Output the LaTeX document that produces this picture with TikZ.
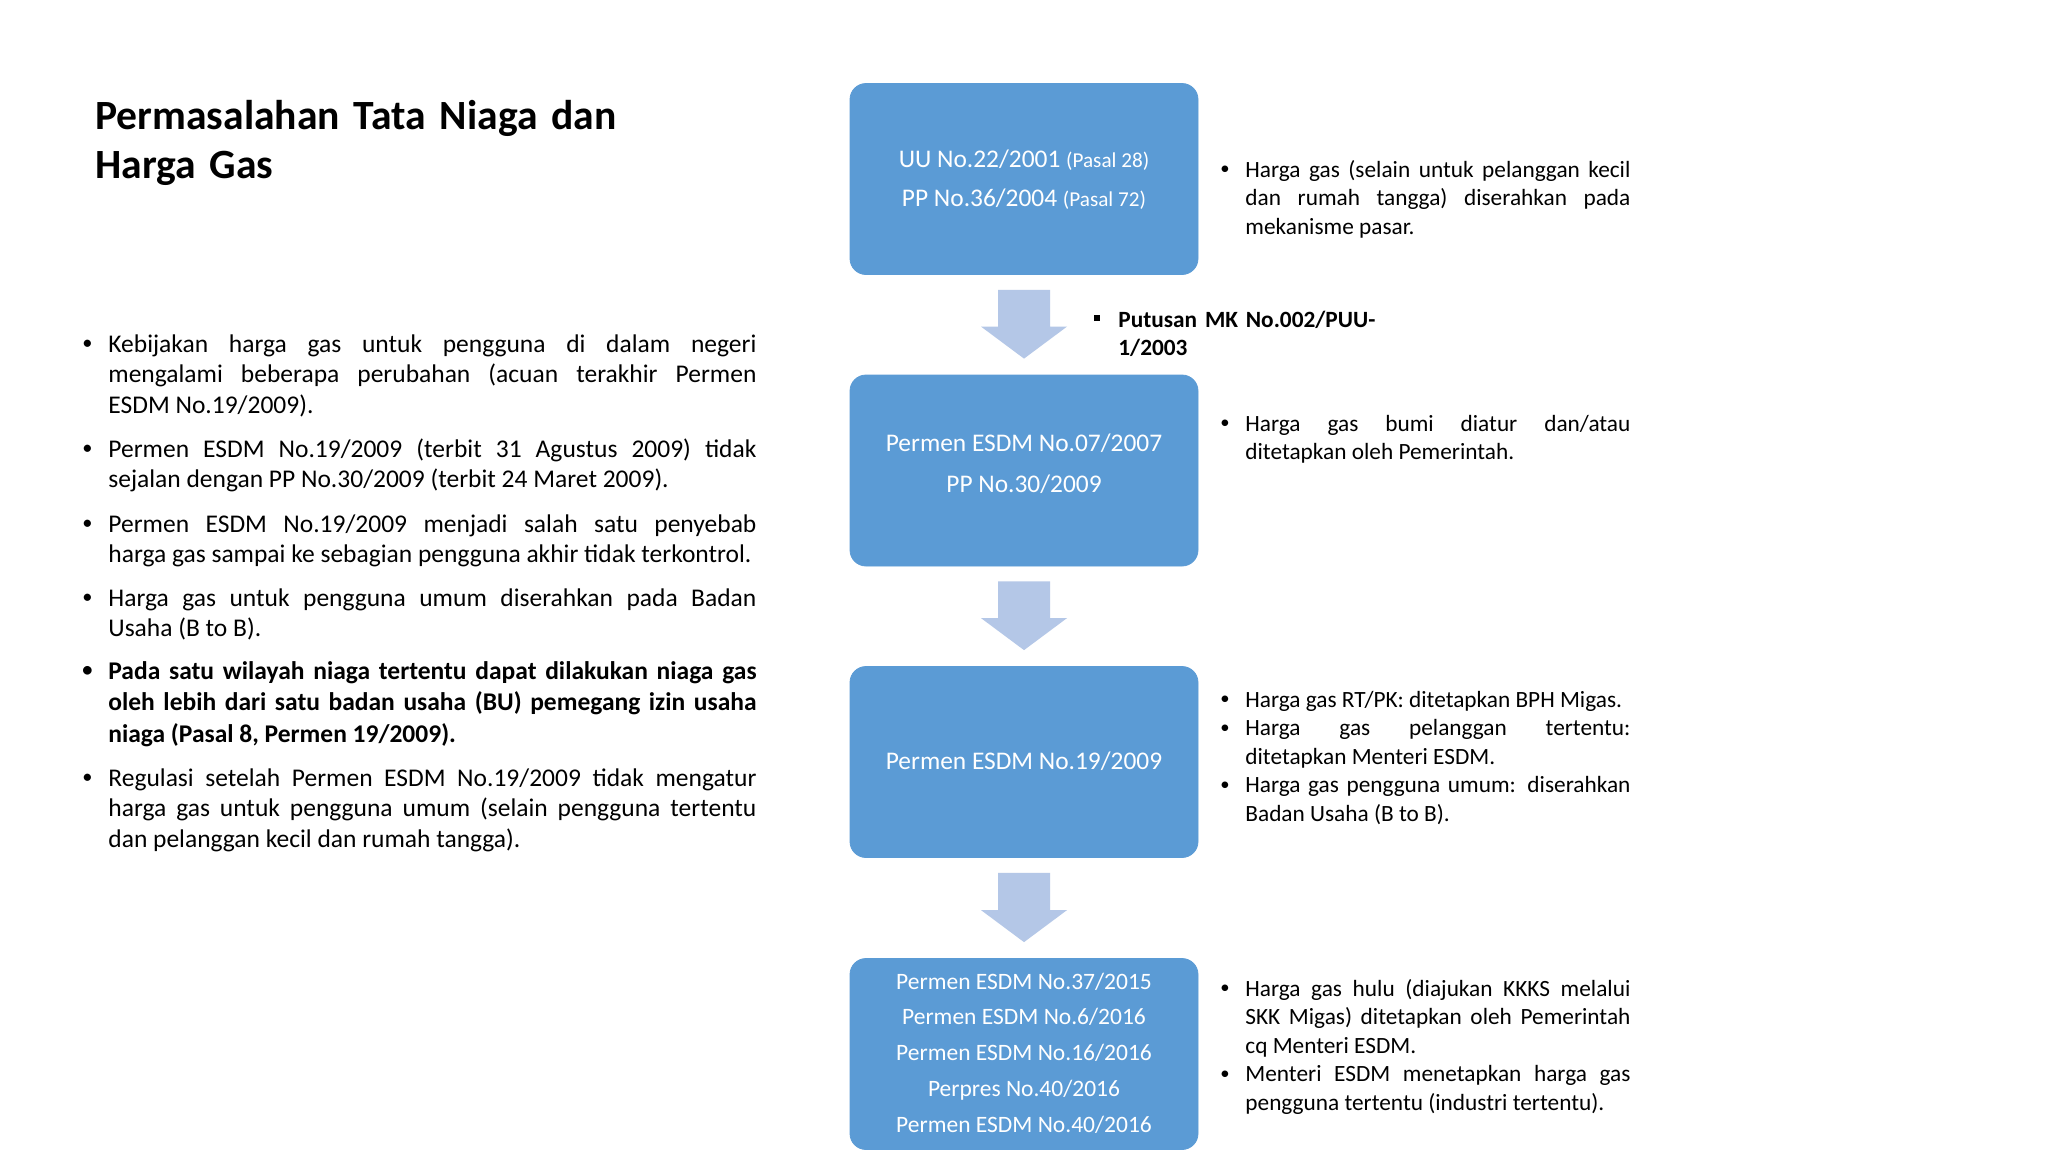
\documentclass[tikz,border=0pt]{standalone}
\usepackage{fontspec}
\usepackage{graphicx}
\setmainfont{Carlito}
\usetikzlibrary{calc}
\definecolor{boxblue}{HTML}{5B9BD5}
\definecolor{arrowblue}{HTML}{B4C7E7}
\newcommand\smallbul{\raisebox{0.09em}{\scalebox{0.8}{•}}}
\newcommand\myitem[3]{\hangindent=#1\hangafter=1\noindent\makebox[#1][l]{#2}#3\par}
\hyphenpenalty=10000
\exhyphenpenalty=10000
\tolerance=9999
\hbadness=10000
\begin{document}
\begin{tikzpicture}[x=0.5pt,y=-0.5pt,
  box/.style={rounded corners=8pt, fill=boxblue, draw=boxblue, minimum width=174pt, minimum height=95.5pt, inner sep=0pt},
  boxtext/.style={text=white, align=center, inner sep=0pt},
  titletext/.style={anchor=base west, inner sep=0pt, text width=330pt, align=left, font=\fontsize{20.8pt}{24.5pt}\selectfont\bfseries},
  lefttext/.style={anchor=base west, inner sep=0pt, text width=337pt, align=justify, font=\fontsize{12.75pt}{15.35pt}\selectfont},
  righttext/.style={anchor=base west, inner sep=0pt, text width=205pt, align=justify, font=\fontsize{11.65pt}{14.3pt}\selectfont},
  blockarrow/.style={fill=arrowblue}
]
\fill[white] (0,0) rectangle (2048,1152);
\useasboundingbox (0,0) rectangle (2048,1152);

% title
\node[titletext] (title) at (95,129) {Permasalahan Tata Niaga dan\\Harga Gas};

% left bullets
\node[lefttext] (p1) at (82,352) {\myitem{13pt}{\smallbul}{Kebijakan harga gas untuk pengguna di dalam negeri \linebreak mengalami beberapa perubahan (acuan terakhir Permen \linebreak ESDM No.19/2009).}};
\node[lefttext] (p2) at (82,457) {\myitem{13pt}{\smallbul}{Permen ESDM No.19/2009 (terbit 31 Agustus 2009) tidak \linebreak sejalan dengan PP No.30/2009 (terbit 24 Maret 2009).}};
\node[lefttext] (p3) at (82,532) {\myitem{13pt}{\smallbul}{Permen ESDM No.19/2009 menjadi salah satu penyebab \linebreak harga gas sampai ke sebagian pengguna akhir tidak terkontrol.}};
\node[lefttext] (p4) at (82,606) {\myitem{13pt}{\smallbul}{Harga gas untuk pengguna umum diserahkan pada Badan \linebreak Usaha (B to B).}};
\node[lefttext,font=\fontsize{12.75pt}{15.8pt}\selectfont\bfseries] (p5) at (82,679) {\myitem{13pt}{\smallbul}{Pada satu wilayah niaga tertentu dapat dilakukan niaga gas \linebreak oleh lebih dari satu badan usaha (BU) pemegang izin usaha \linebreak niaga (Pasal 8, Permen 19/2009).}};
\node[lefttext] (p6) at (82,786) {\myitem{13pt}{\smallbul}{Regulasi setelah Permen ESDM No.19/2009 tidak mengatur \linebreak harga gas untuk pengguna umum (selain pengguna tertentu \linebreak dan pelanggan kecil dan rumah tangga).}};

% boxes
\node[box] (b1) at (1024,179) {};
\node[box] (b2) at (1024,470.5) {};
\node[box] (b3) at (1024,762) {};
\node[box] (b4) at (1024,1054) {};

\node[boxtext,font=\fontsize{12.7pt}{19.5pt}\selectfont] (t1) at ($(b1.center)+(0,0.5)$) {UU No.22/2001 {\fontsize{10.6pt}{12pt}\selectfont (Pasal 28)}\\PP No.36/2004 {\fontsize{10.6pt}{12pt}\selectfont (Pasal 72)}};
\node[boxtext,font=\fontsize{12.7pt}{20.25pt}\selectfont] (t2) at ($(b2.center)+(0,-7)$) {Permen ESDM No.07/2007\\PP No.30/2009};
\node[boxtext,font=\fontsize{12.7pt}{15pt}\selectfont] (t3) at ($(b3.center)+(0,-1)$) {Permen ESDM No.19/2009};
\node[boxtext,font=\fontsize{11.75pt}{17.9pt}\selectfont] (t4) at ($(b4.center)+(0,-1)$) {Permen ESDM No.37/2015\\Permen ESDM No.6/2016\\Permen ESDM No.16/2016\\Perpres No.40/2016\\Permen ESDM No.40/2016};

% block arrows
\foreach \a/\b in {b1/b2,b2/b3,b3/b4}{
  \fill[blockarrow] ($(\a.south)+(-26,15)$) -- ($(\b.north)+(-26,-48)$) -- ($(\b.north)+(-43,-48)$) -- ($(\b.north)+(0,-16)$) -- ($(\b.north)+(43,-48)$) -- ($(\b.north)+(26,-48)$) -- ($(\a.south)+(26,15)$) -- cycle;
}

% right texts
\node[righttext] (r1) at (1220,177) {\myitem{12.5pt}{\smallbul}{Harga gas (selain untuk pelanggan kecil \linebreak dan rumah tangga) diserahkan pada \linebreak mekanisme pasar.}};
\node[righttext,text width=160pt,align=left,font=\fontsize{11.65pt}{14.3pt}\selectfont\bfseries] (r2) at (1094,327) {\myitem{12pt}{\rule[0.25em]{0.25em}{0.25em}}{Putusan MK No.002/PUU-\hfil\break 1/2003}};
\node[righttext] (r3) at (1220,431) {\myitem{12.5pt}{\smallbul}{Harga gas bumi diatur dan/atau \linebreak ditetapkan oleh Pemerintah.}};
\node[righttext] (r4) at (1220,707) {\myitem{12.5pt}{\smallbul}{Harga gas RT/PK: ditetapkan BPH Migas.}\myitem{12.5pt}{\smallbul}{Harga gas pelanggan tertentu: \linebreak ditetapkan Menteri ESDM.}\myitem{12.5pt}{\smallbul}{Harga gas pengguna umum: diserahkan \linebreak Badan Usaha (B to B).}};
\node[righttext] (r5) at (1220,996) {\myitem{12.5pt}{\smallbul}{Harga gas hulu (diajukan KKKS melalui \linebreak SKK Migas) ditetapkan oleh Pemerintah \linebreak cq Menteri ESDM.}\myitem{12.5pt}{\smallbul}{Menteri ESDM menetapkan harga gas \linebreak pengguna tertentu (industri tertentu).}};
\end{tikzpicture}
\end{document}
